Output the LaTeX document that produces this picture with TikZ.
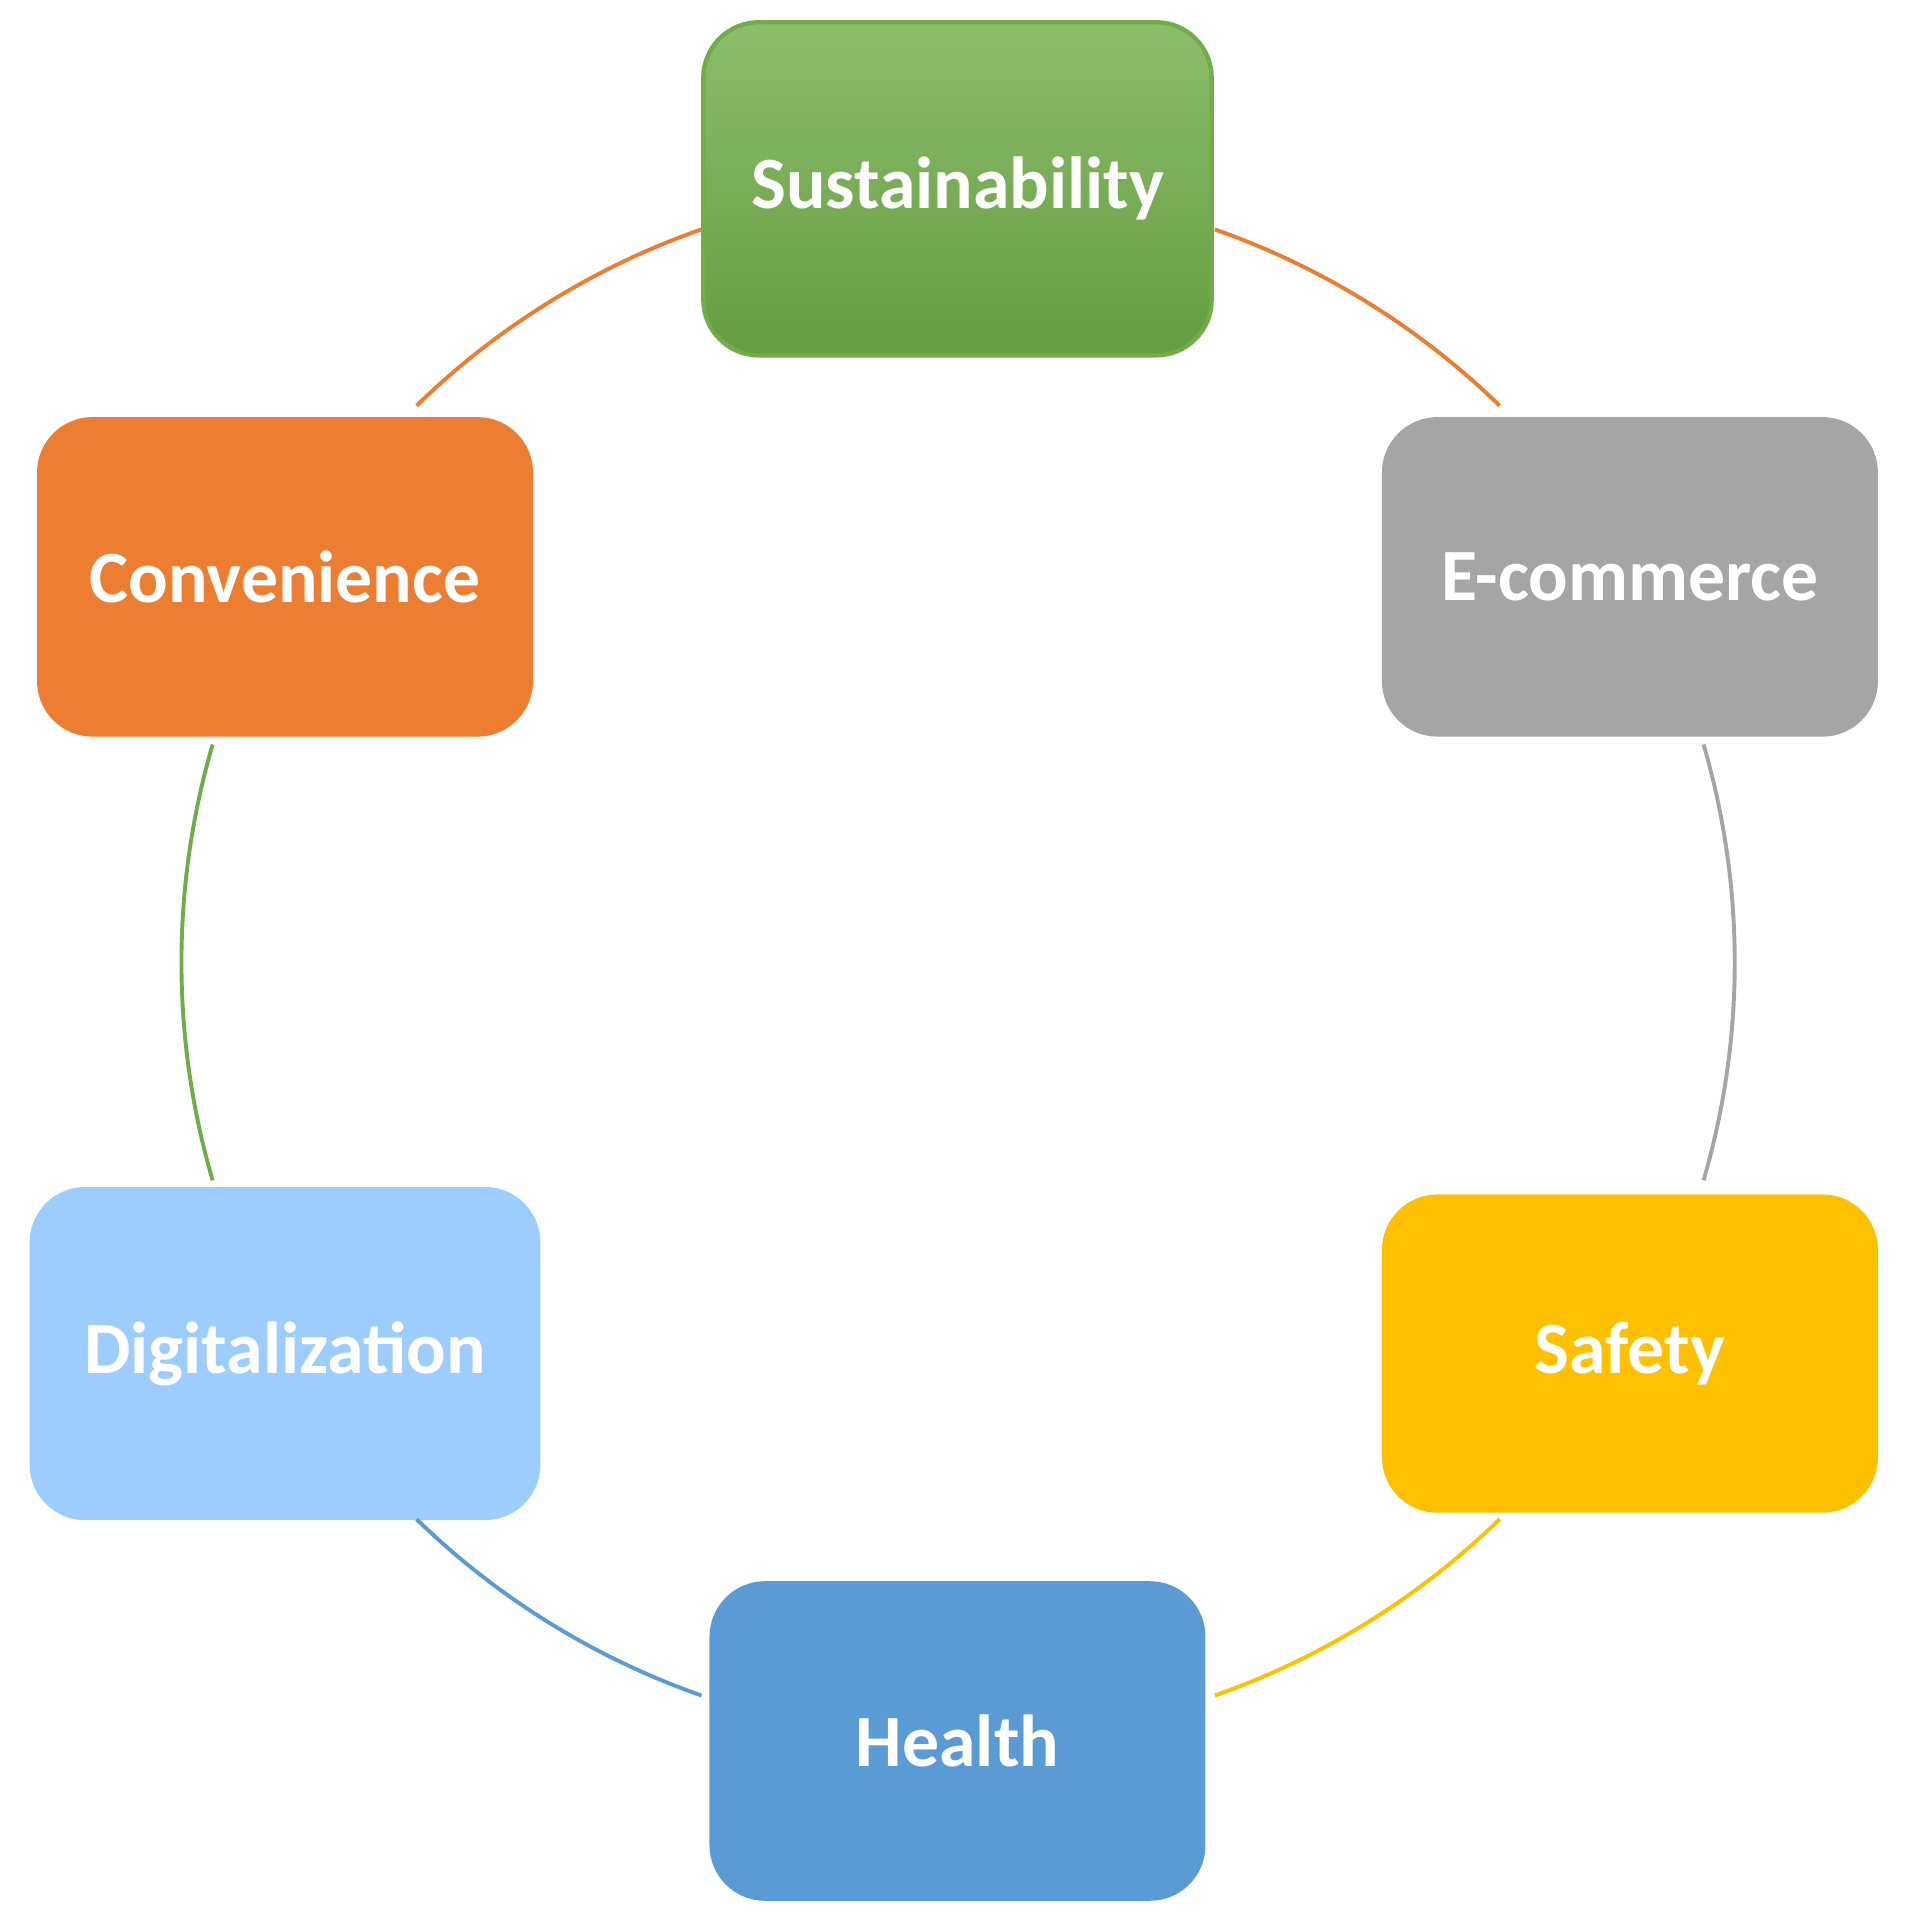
\documentclass[tikz,border=0pt]{standalone}
\usepackage{fontspec}
\setmainfont{Carlito}
\definecolor{cor}{HTML}{ED7D31}
\definecolor{cgr}{HTML}{A5A5A5}
\definecolor{cye}{HTML}{FFC000}
\definecolor{cbl}{HTML}{5B9BD5}
\definecolor{clb}{HTML}{9DCCFF}
\definecolor{cgn}{HTML}{70AD47}
\begin{document}
\begin{tikzpicture}[x=0.1mm,y=-0.1mm,
  box/.style={rounded corners=4.5mm,minimum width=40.2mm,minimum height=25.9mm,text=white,font=\fontsize{17}{20}\selectfont\bfseries,draw=none},
  arcline/.style={line width=0.9pt}]
\useasboundingbox (0,0) rectangle (1545,1565);
\coordinate (c) at (776.5,780);
\node[box,minimum width=41.2mm,minimum height=27mm,top color=cgn!80!white,bottom color=cgn!90!black,draw=cgn,line width=1pt] (s) at (776,153) {Sustainability};
\node[box,fill=cor] (conv) at (231,467.5) {Convenience};
\node[box,fill=cgr] (e) at (1321,467.5) {E-commerce};
\node[box,fill=cye,minimum height=25.8mm] (saf) at (1321,1097) {Safety};
\node[box,fill=cbl] (h) at (776,1411) {Health};
\node[box,fill=clb,minimum width=41.4mm,minimum height=27mm] (d) at (231,1097) {Digitalization};
\begin{scope}[x=1mm,y=1mm]
\draw[arcline,cor] (c) ++(70.7:62.95) arc[start angle=70.7,end angle=45.8,radius=62.95];
\draw[arcline,cor] (c) ++(134.2:62.95) arc[start angle=134.2,end angle=109.3,radius=62.95];
\draw[arcline,cgr] (c) ++(16.3:62.95) arc[start angle=16.3,end angle=-16.3,radius=62.95];
\draw[arcline,cye] (c) ++(-45.8:62.95) arc[start angle=-45.8,end angle=-70.7,radius=62.95];
\draw[arcline,cbl] (c) ++(-109.3:62.95) arc[start angle=-109.3,end angle=-134.2,radius=62.95];
\draw[arcline,cgn] (c) ++(163.7:62.95) arc[start angle=163.7,end angle=196.3,radius=62.95];
\end{scope}
\end{tikzpicture}
\end{document}
